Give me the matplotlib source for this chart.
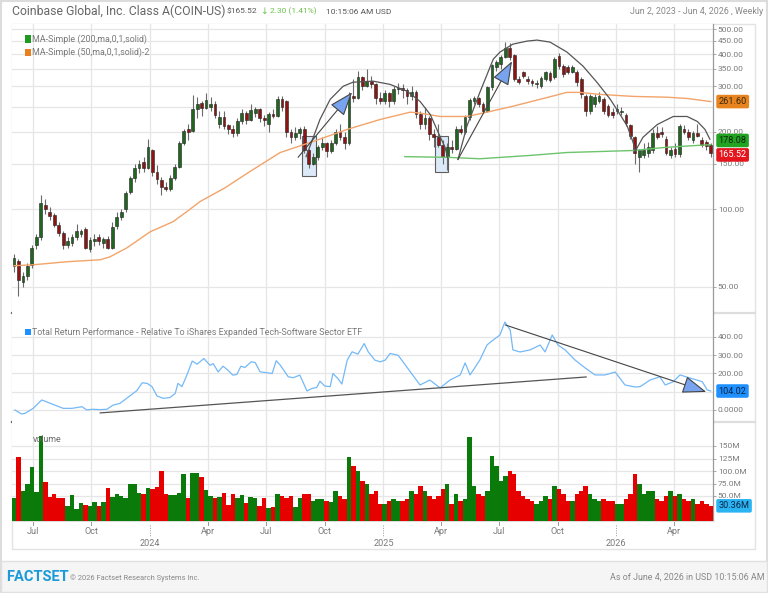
import matplotlib
matplotlib.use("Agg")
import matplotlib.pyplot as plt
import matplotlib.patches as mpatches
import matplotlib.transforms as mtransforms
from datetime import date

plt.rcParams['font.family'] = ['Roboto', 'DejaVu Sans']

W, H = 768, 593
start = date(2023, 6, 2)

# weekly candles (price in USD)
opens = [60, 63, 52, 55, 61, 73, 78, 104, 98, 95, 87, 81, 73, 74, 78, 80, 84, 70, 75, 78,
         74, 77, 71, 86, 93, 100, 117, 132, 145, 152, 145, 170, 140, 130, 122, 120, 132, 146, 180, 205,
         202, 245, 258, 248, 250, 256, 215, 228, 212, 205, 197, 220, 237, 222, 236, 244, 225, 215, 235, 230,
         268, 262, 200, 190, 198, 205, 170, 150, 160, 175, 180, 168, 180, 200, 190, 180, 275, 270, 325, 300,
         315, 305, 270, 262, 282, 262, 292, 296, 290, 275, 285, 235, 215, 225, 195, 190, 178, 160, 175, 172,
         205, 200, 228, 262, 270, 255, 240, 297, 355, 365, 389, 422, 396, 320, 340, 320, 315, 305, 300, 320,
         338, 325, 392, 360, 357, 342, 340, 321, 275, 240, 256, 262, 268, 251, 238, 240, 238, 233, 213, 190,
         160, 163, 165, 170, 198, 200, 188, 162, 172, 164, 205, 200, 185, 198, 185, 182, 178]
highs = [67, 64, 57, 62, 73, 80, 114, 110, 102, 97, 89, 82, 78, 80, 88, 84, 85, 78, 80, 80,
         78, 79, 89, 98, 100, 118, 135, 150, 155, 160, 187, 172, 148, 133, 128, 136, 150, 184, 205, 215,
         278, 273, 262, 283, 272, 262, 240, 240, 215, 212, 225, 245, 240, 255, 250, 246, 232, 238, 245, 275,
         275, 265, 205, 208, 208, 210, 172, 165, 178, 190, 182, 185, 205, 215, 200, 285, 320, 345, 330, 350,
         330, 310, 285, 290, 285, 300, 310, 305, 295, 300, 290, 240, 250, 230, 205, 215, 185, 180, 185, 210,
         212, 232, 270, 275, 272, 260, 300, 365, 380, 395, 445, 440, 400, 330, 345, 330, 320, 318, 330, 345,
         345, 390, 402, 365, 362, 362, 348, 325, 280, 280, 280, 285, 272, 255, 248, 255, 250, 236, 215, 192,
         172, 180, 182, 205, 210, 208, 192, 175, 180, 215, 212, 205, 202, 215, 190, 186, 180]
lows = [57, 46, 50, 53, 59, 70, 76, 96, 91, 85, 79, 70, 71, 72, 76, 78, 70, 68, 72, 73,
        71, 70, 70, 84, 91, 98, 115, 128, 138, 140, 143, 135, 125, 114, 118, 118, 130, 144, 178, 185,
        200, 225, 230, 245, 240, 225, 206, 205, 195, 190, 193, 215, 215, 220, 228, 218, 210, 200, 225, 228,
        240, 190, 180, 185, 188, 165, 145, 148, 155, 170, 160, 165, 178, 185, 172, 178, 260, 268, 290, 298,
        295, 255, 255, 255, 250, 255, 280, 270, 255, 265, 225, 205, 205, 185, 175, 175, 150, 142, 165, 170,
        195, 195, 222, 255, 250, 238, 238, 290, 345, 350, 385, 380, 315, 305, 322, 305, 300, 295, 295, 315,
        312, 320, 350, 325, 335, 338, 300, 270, 230, 235, 250, 258, 235, 228, 225, 235, 232, 210, 188, 150,
        140, 158, 160, 165, 188, 190, 162, 158, 160, 160, 195, 185, 180, 190, 175, 170, 160]
closes = [65, 53, 55, 60, 71, 78, 106, 100, 94, 87, 81, 73, 75, 78, 82, 82, 71, 76, 77, 75,
          77, 71, 85, 93, 98, 116, 132, 145, 150, 145, 174, 140, 131, 122, 120, 132, 146, 180, 202, 200,
          245, 255, 248, 265, 256, 232, 228, 210, 205, 197, 220, 237, 222, 243, 244, 225, 222, 235, 230, 268,
          250, 200, 190, 198, 205, 170, 150, 160, 175, 180, 168, 180, 200, 190, 180, 275, 270, 325, 300, 315,
          305, 270, 262, 282, 262, 292, 296, 290, 275, 285, 235, 215, 225, 195, 190, 178, 160, 175, 172, 205,
          200, 228, 265, 270, 255, 240, 297, 362, 372, 389, 422, 389, 320, 312, 330, 313, 308, 310, 324, 340,
          318, 382, 360, 335, 342, 357, 312, 279, 240, 275, 272, 275, 240, 233, 233, 245, 240, 217, 192, 166,
          170, 170, 175, 198, 191, 195, 166, 170, 164, 210, 200, 190, 198, 192, 178, 176, 165.52]
volumes = [46, 128, 60, 74, 108, 58, 170, 78, 49, 54, 46, 47, 31, 52, 24, 36, 32, 30, 38, 30,
           38, 67, 49, 54, 50, 47, 74, 74, 57, 55, 67, 65, 68, 100, 54, 52, 52, 56, 94, 47,
           96, 97, 88, 62, 50, 47, 49, 56, 33, 54, 47, 53, 36, 48, 47, 31, 47, 26, 28, 54,
           50, 47, 50, 28, 46, 55, 55, 40, 45, 45, 40, 38, 60, 50, 45, 128, 110, 100, 80, 75,
           55, 60, 35, 35, 40, 45, 40, 40, 45, 60, 55, 70, 60, 50, 45, 50, 65, 75, 35, 55,
           40, 45, 168, 70, 55, 50, 60, 130, 110, 80, 90, 100, 95, 60, 50, 45, 40, 35, 40, 50,
           45, 70, 65, 55, 40, 40, 55, 60, 70, 55, 45, 40, 45, 40, 40, 35, 35, 45, 55, 95,
           75, 55, 60, 60, 45, 40, 50, 60, 50, 55, 45, 40, 45, 35, 40, 35, 30.36]

# moving averages (week index, value)
ma50_weeks = [0, 4.3, 11.9, 19.3, 21.5, 25.3, 30.5, 35.6, 38.7, 41.6, 47.2, 52.8, 59.6, 66.9, 74.6,
              82.0, 88.7, 90.9, 95.4, 101.4, 105.9, 111.7, 117.8, 123.8, 126.7, 131.1, 138.6, 146.2, 150.7, 156]
ma50_vals = [60.4, 60.9, 62.6, 63.7, 65.4, 70.9, 81.8, 89.5, 97.9, 107, 121, 140, 166, 183, 204,
             223, 238, 236, 229, 229, 238, 251, 267, 284, 284, 279, 274, 272, 269, 261.6]
ma200_weeks = [87.5, 97.0, 104.3, 115.5, 123.8, 138.6, 146.2, 156]
ma200_vals = [160, 159, 157, 161.7, 166, 169, 174, 178.08]

# total return performance relative to sector ETF
perf_weeks = [0.2, 1.7, 2.5, 4.3, 6.2, 11.0, 13.0, 15.2, 16.3, 17.5, 19.3, 20.8, 22.2, 23.7, 27.5,
              28.7, 29.8, 30.9, 32.0, 33.4, 34.9, 36.1, 36.7, 37.6, 38.7, 39.9, 41.0, 42.5, 43.9, 44.6,
              45.7, 46.8, 47.9, 49.0, 49.9, 50.8, 51.7, 53.1, 54.0, 55.1, 56.7, 57.8, 58.7, 59.6, 61.4,
              62.5, 64.0, 65.6, 66.7, 67.8, 68.5, 69.6, 70.8, 71.4, 72.5, 73.4, 74.6, 75.7, 77.0, 78.4,
              79.3, 80.8, 82.0, 83.1, 84.2, 86.0, 87.6, 90.9, 93.1, 95.4, 97.6, 99.9, 101.0, 102.1, 104.3,
              105.9, 107.3, 108.8, 109.9, 111.1, 111.7, 113.3, 115.5, 117.8, 118.9, 120.5, 121.8, 123.4, 125.6,
              127.9, 130.1, 132.3, 134.6, 136.8, 139.1, 140.2, 142.4, 144.6, 145.8, 147.6, 149.1, 151.4,
              154.1, 155.2, 156]
perf_vals = [0, -22, -18, 9, 55, 9, 9, 18, 0, 4, 2, 4, 27, 36, 106,
             149, 146, 128, 77, 64, 68, 91, 146, 128, 191, 268, 251, 282, 245, 254,
             209, 240, 218, 191, 195, 240, 233, 264, 260, 209, 204, 200, 270, 246, 182,
             177, 191, 104, 118, 124, 158, 131, 128, 200, 173, 142, 273, 319, 306, 364,
             319, 273, 264, 273, 310, 300, 247, 137, 164, 121, 164, 192, 258, 192, 274,
             356, 384, 411, 482, 438, 329, 318, 329, 356, 318, 411, 356, 329, 274,
             230, 192, 192, 208, 137, 126, 128, 164, 182, 137, 155, 192, 175,
             155, 110, 104.02]

# drawn annotations (week index, price)
arc1_w = [65.4, 68.5, 70.8, 73.7, 75.9, 80.4, 84.2, 88.0, 90.9, 93.2, 94.9, 96.5, 97.2]
arc1_p = [160, 223, 267, 300, 311, 314, 305, 287, 262, 233, 200, 174, 156]
arc2_w = [99.4, 101.4, 104.3, 107.3, 108.8, 111.7, 114.9, 117.1, 120.0, 123.8, 127.4, 130.5, 133.5,
          135.7, 137.3, 138.6, 139.1]
arc2_p = [156, 210, 284, 382, 407, 437, 449, 453, 445, 407, 359, 311, 267, 233, 210, 182, 168]
arc3_w = [139.1, 140.8, 144.0, 147.6, 150.7, 153.0, 154.7, 155.8]
arc3_p = [168, 190, 213, 229, 229, 219, 204, 187]
arrow1 = [(63.6, 159), (75.7, 284)]
arrow2 = [(99.4, 156), (111.5, 375)]
box1 = (64.5, 67.6, 135, 192)
box2 = (94.3, 97.2, 140, 193)
perf_support = [(19.3, -16), (128.1, 181)]
perf_arrow = [(110, 466), (155, 99)]

quarters = [date(2023, 7, 1), date(2023, 10, 1), date(2024, 1, 1), date(2024, 4, 1), date(2024, 7, 1),
            date(2024, 10, 1), date(2025, 1, 1), date(2025, 4, 1), date(2025, 7, 1), date(2025, 10, 1),
            date(2026, 1, 1), date(2026, 4, 1)]
month_names = {1: '', 4: 'Apr', 7: 'Jul', 10: 'Oct'}

GRID = '#e6e6e6'
TXT = '#7a7a7a'
NARROW = ['Liberation Sans Narrow', 'Roboto', 'DejaVu Sans']

fig = plt.figure(figsize=(W / 100, H / 100), dpi=100)


def px_axes(left, top, right, bottom, **kw):
    return fig.add_axes([left / W, 1 - bottom / H, (right - left) / W, (bottom - top) / H], **kw)


# background / frame layer in pixel coordinates
bg = px_axes(0, 0, W, H, zorder=-5)
bg.set_xlim(0, W)
bg.set_ylim(H, 0)
bg.axis('off')
bg.add_patch(mpatches.Rectangle((1, 1), W - 2, H - 2, fc='white', ec='#dcdcdc', lw=1.5))
bg.add_patch(mpatches.Rectangle((12, 24), 743, 525, fc='white', ec='#e3e3e3', lw=1))
bg.add_patch(mpatches.Rectangle((1, 561), W - 2, 31, fc='#f5f5f5', ec='#e0e0e0', lw=1))

bg.text(12, 11, 'Coinbase Global, Inc. Class A(COIN-US)', fontsize=8.8, color='#666666', va='center')
bg.text(227, 11.5, '$165.52', fontsize=6.0, color='#555555', va='center')
bg.text(260, 11.5, '↓', fontsize=6.6, color='#6cc24a', va='center', family=['DejaVu Sans'])
bg.text(270, 11.5, '2.30 (1.41%)', fontsize=6.0, color='#6cc24a', va='center')
bg.text(326, 11.5, '10:15:06 AM USD', fontsize=6.0, color='#555555', va='center')
bg.text(763, 11, 'Jun 2, 2023 - Jun 4, 2026 , Weekly', fontsize=6.4, color='#888888', va='center', ha='right')

bg.text(6, 577, 'FACTSET', fontsize=10.5, color='#1a9ad9', va='center', weight='bold', family=NARROW)
bg.text(70, 578, '© 2026 Factset Research Systems Inc.', fontsize=5.4, color='#888888', va='center',
        family=NARROW)
bg.text(765, 577, 'As of June 4, 2026 in USD 10:15:06 AM', fontsize=6.4, color='#888888', va='center',
        ha='right', family=NARROW)

ax = px_axes(12, 24, 713, 313)
ax_p = px_axes(12, 313, 713, 422)
ax_v = px_axes(12, 422, 713, 521)

xmin, xmax = -0.45, 156.5
qpos = [(q - start).days / 7 for q in quarters]

for a in (ax, ax_p, ax_v):
    a.set_xlim(xmin, xmax)
    for s in ('top', 'left', 'bottom'):
        a.spines[s].set_visible(False)
    a.spines['right'].set_color('#9a9a9a')
    a.spines['right'].set_linewidth(0.9)
    a.yaxis.tick_right()
    a.tick_params(axis='y', labelsize=6, colors='#9a9a9a', labelcolor=TXT, length=2, pad=1.5, width=0.6)
    a.tick_params(axis='x', length=0)
    for qp in qpos:
        a.axvline(qp, color=GRID, lw=0.9, zorder=0)
    a.set_xticks([])

# ---- price panel
ax.set_yscale('log')
ax.set_ylim(39.6, 523)
pgrid = [50, 100, 150, 200, 250, 300, 350, 400, 450, 500]
pticks = [50, 100, 150, 200, 300, 350, 400, 450, 500]
ax.set_yticks(pticks)
ax.set_yticklabels(['%.2f' % t for t in pticks])
ax.yaxis.set_minor_locator(matplotlib.ticker.NullLocator())
for t in pgrid:
    ax.axhline(t, color=GRID, lw=0.9, zorder=0)

# hand-drawn boxes sit behind the candles
for bx in (box1, box2):
    ax.add_patch(mpatches.Rectangle((bx[0], bx[2]), bx[1] - bx[0], bx[3] - bx[2],
                                    fc='#dce9f8', ec='#5e5e5e', lw=0.8, zorder=1.5))

for i in range(len(closes)):
    up = closes[i] >= opens[i]
    ax.vlines(i, lows[i], highs[i], color='#6a6a6a', lw=0.8, zorder=2)
    lo, hi = min(opens[i], closes[i]), max(opens[i], closes[i])
    ax.bar(i, hi - lo, bottom=lo, width=0.62, color='#1f661f' if up else '#8e1414',
           edgecolor='#222222', lw=0.4, zorder=3)

ax.plot(ma50_weeks, ma50_vals, color='#f2a46a', lw=1.0, zorder=4)
ax.plot(ma200_weeks, ma200_vals, color='#6cc46c', lw=1.0, zorder=4)

for aw, ap in ((arc1_w, arc1_p), (arc2_w, arc2_p), (arc3_w, arc3_p)):
    ax.plot(aw, ap, color='#555555', lw=0.9, zorder=5)

aprops = dict(arrowstyle='-|>,head_length=1.5,head_width=0.55', ec='#444444', fc='#78a4ef',
              lw=0.8, shrinkA=0, shrinkB=0)
for arr in (arrow1, arrow2):
    ax.annotate('', xy=arr[1], xytext=arr[0], arrowprops=aprops, zorder=6)


def right_label(a, val, text, fc, tc, dy=0):
    a.annotate(text, xy=(1, val), xycoords=('axes fraction', 'data'), xytext=(4, dy),
               textcoords='offset points', fontsize=6.6, color=tc, va='center', ha='left',
               bbox=dict(boxstyle='round,pad=0.25,rounding_size=0.2', fc=fc, ec='none'),
               annotation_clip=False, zorder=10)


right_label(ax, ma50_vals[-1], '%.2f' % ma50_vals[-1], '#e8841f', '#3a2a10')
right_label(ax, ma200_vals[-1], '%.2f' % ma200_vals[-1], '#22a322', '#0e2a0e', dy=3)
right_label(ax, closes[-1], '%.2f' % closes[-1], '#e5151d', 'white', dy=-1.5)

ax.add_patch(mpatches.Rectangle((0.018, 0.935), 0.009, 0.026, transform=ax.transAxes, fc='#1f9a1f', ec='none'))
ax.text(0.029, 0.948, 'MA-Simple (200,ma,0,1,solid)', transform=ax.transAxes, fontsize=6.4, color=TXT, va='center')
ax.add_patch(mpatches.Rectangle((0.018, 0.889), 0.009, 0.026, transform=ax.transAxes, fc='#e8801f', ec='none'))
ax.text(0.029, 0.902, 'MA-Simple (50,ma,0,1,solid)-2', transform=ax.transAxes, fontsize=6.4, color=TXT, va='center')

# ---- relative performance panel
ax_p.set_ylim(-65.8, 531.5)
for t in (0, 100, 200, 300, 400):
    ax_p.axhline(t, color=GRID, lw=0.9, zorder=0)
ax_p.set_yticks([0, 200, 300, 400])
ax_p.set_yticklabels(['0.0000', '200.00', '300.00', '400.00'])
ax_p.plot(perf_weeks, perf_vals, color='#74b9f7', lw=0.9, zorder=3)
ax_p.plot([p[0] for p in perf_support], [p[1] for p in perf_support], color='#555555', lw=0.9, zorder=4)
ax_p.annotate('', xy=perf_arrow[1], xytext=perf_arrow[0], arrowprops=aprops, zorder=6)
right_label(ax_p, perf_vals[-1], '%.2f' % perf_vals[-1], '#1e90ff', '#0b2545')
ax_p.add_patch(mpatches.Rectangle((0.018, 0.795), 0.009, 0.06, transform=ax_p.transAxes, fc='#1e90ff', ec='none'))
ax_p.text(0.029, 0.825, 'Total Return Performance - Relative To iShares Expanded Tech-Software Sector ETF',
          transform=ax_p.transAxes, fontsize=6.4, color=TXT, va='center')

# ---- volume panel
ax_v.set_ylim(0, 198)
for t in (25, 50, 75, 100, 125, 150):
    ax_v.axhline(t, color=GRID, lw=0.9, zorder=0)
ax_v.set_yticks([50, 75, 100, 125, 150])
ax_v.set_yticklabels(['50.0M', '75.0M', '100.0M', '125M', '150M'])
vcol = ['#0a7a0a' if closes[i] >= opens[i] else '#e60000' for i in range(len(closes))]
ax_v.bar(range(len(volumes)), volumes, width=1.0, color=vcol, edgecolor='none', zorder=3)
right_label(ax_v, volumes[-1], '%.2fM' % volumes[-1], '#2ab4f2', '#0b2545')
ax_v.text(0.03, 0.82, 'volume', transform=ax_v.transAxes, fontsize=6.4, color='#6a6a6a', va='center', zorder=5)
ax_v.spines['bottom'].set_visible(True)
ax_v.spines['bottom'].set_color('#dddddd')

blend = mtransforms.blended_transform_factory(ax_v.transData, ax_v.transAxes)
for q, qp in zip(quarters, qpos):
    if q.month == 1:
        ax_v.plot([qp, qp], [-0.04, -0.16], transform=blend, color='#999999', lw=0.7, ls=(0, (1, 1.5)),
                  clip_on=False)
        ax_v.text(qp, -0.23, str(q.year), transform=blend, fontsize=6.6, color=TXT, ha='center', va='center')
    else:
        ax_v.plot([qp, qp], [0, -0.04], transform=blend, color='#999999', lw=0.7, clip_on=False)
        ax_v.text(qp, -0.11, month_names[q.month], transform=blend, fontsize=6.6, color=TXT,
                  ha='center', va='center')

# panel separators
for yy in (313, 422):
    bg.plot([12, 713], [yy, yy], color='#6b6b6b', lw=1.6, zorder=5)
    bg.plot([713, 755], [yy, yy], color='#dddddd', lw=1.6, zorder=5)

fig.savefig('out.png', dpi=100)
